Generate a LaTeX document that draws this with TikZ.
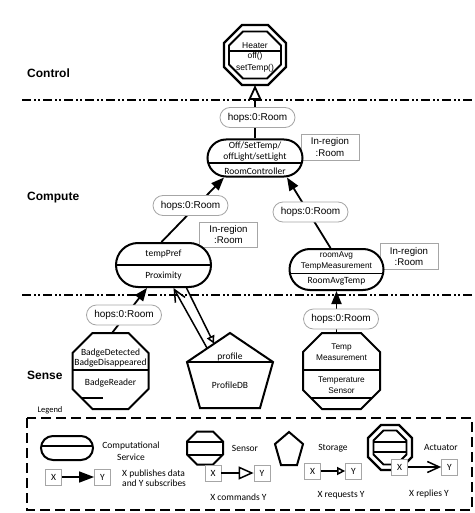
\documentclass[tikz,border=0pt]{standalone}
\usepackage{fontspec}
\setmainfont{Liberation Sans}
\newfontfamily\calfont{Carlito}
\usetikzlibrary{arrows.meta,shapes.misc,calc}

\newcommand{\octaShape}[6]{%
  \draw[#6] ({#1-#3/2+#5},{#2-#4/2}) -- ({#1+#3/2-#5},{#2-#4/2}) -- ({#1+#3/2},{#2-#4/2+#5}) -- ({#1+#3/2},{#2+#4/2-#5}) -- ({#1+#3/2-#5},{#2+#4/2}) -- ({#1-#3/2+#5},{#2+#4/2}) -- ({#1-#3/2},{#2+#4/2-#5}) -- ({#1-#3/2},{#2-#4/2+#5}) -- cycle;}

\tikzset{
  layerlbl/.style={anchor=west, inner sep=0pt, font=\bfseries\fontsize{12}{14}\selectfont},
  layerline/.style={line width=2.5pt, dash pattern=on 9pt off 3pt on 2pt off 2pt on 2pt off 3pt},
  capsule/.style={rounded rectangle, draw, line width=2pt, fill=white, inner sep=0pt},
  splitat/.style={path picture={\draw[line width=1.5pt] ([yshift=#1]path picture bounding box.west) -- ([yshift=#1]path picture bounding box.east);}},
  shapeline/.style={line width=2pt, fill=white},
  divline/.style={line width=1.5pt},
  hold/.style={rectangle, inner sep=0pt, outer sep=0pt},
  ctxt/.style={font=\calfont\fontsize{9.5}{10.5}\selectfont, align=center, inner sep=0pt},
  atxt/.style={font=\fontsize{8.3}{11}\selectfont, align=center, inner sep=0pt},
  hops/.style={rounded rectangle, draw=gray!70, line width=0.8pt, fill=white, minimum width=75pt, minimum height=20pt, inner sep=0pt, font=\fontsize{10}{11}\selectfont},
  region/.style={rectangle, draw=gray!70, line width=0.8pt, fill=white, minimum width=58pt, minimum height=26pt, inner sep=0pt, align=center, font=\fontsize{9.7}{11.5}\selectfont},
  xy/.style={rectangle, draw=gray!70, line width=0.8pt, fill=white, minimum size=16pt, inner sep=0pt, font=\calfont\fontsize{9.5}{10}\selectfont},
  pub/.style={line width=1.8pt, -{Triangle[length=13pt,width=10pt]}},
  cmd/.style={line width=1.8pt, -{Triangle[fill=white,length=15pt,width=13pt]}},
  req/.style={line width=1.5pt, -{Triangle[fill=white,length=8pt,width=8pt]}},
  rep/.style={line width=1.5pt, -{Straight Barb[length=12pt,width=11pt]}},
}

\begin{document}
\begin{tikzpicture}[x=1pt, y=-1pt]
\useasboundingbox (0,0) rectangle (474,513);

% layers
\node[layerlbl] (lcontrol) at (27,73) {Control};
\node[layerlbl] (lcompute) at (27,198) {Compute};
\node[layerlbl] (lsense) at (27,375) {Sense};
\draw[layerline] (22,100) -- (474,100);
\draw[layerline] (22,295) -- (474,295);

% in-region boxes (behind the services)
\node[region] (ir1) at (330,147) {In-region\\:Room};
\node[region, minimum height=25pt] (ir2) at (228.5,234.5) {In-region\\:Room};
\node[region] (ir3) at (409,256.5) {In-region\\:Room};

% Heater (actuator)
\node[hold, minimum width=62pt, minimum height=60pt] (heater) at (255,55) {};
\octaShape{255}{55}{62}{60}{18}{line width=2.4pt, fill=white}
\octaShape{255}{55}{52}{47}{14}{line width=1.8pt}
\draw[line width=1.2pt] (229,51) -- (281,51);
\node[atxt, font=\fontsize{8.5}{12}\selectfont] (heater-n) at (255,46) {Heater};
\node[atxt, font=\fontsize{8.5}{12}\selectfont] (heater-m) at (255,62.5) {off()\\setTemp()};

% RoomController
\node[capsule, minimum width=95pt, minimum height=37pt, splitat=-5pt] (rc) at (255,158) {};
\node[ctxt] (rc-op) at (255,151.5) {Off/SetTemp/\\offLight/setLight};
\node[ctxt] (rc-name) at (255,171) {RoomController};

% Proximity
\node[capsule, minimum width=95pt, minimum height=44pt, splitat=0pt] (prox) at (163.5,265) {};
\node[ctxt] (prox-op) at (163.5,254) {tempPref};
\node[ctxt] (prox-name) at (163.5,276) {Proximity};

% RoomAvgTemp
\node[capsule, minimum width=94pt, minimum height=41pt, splitat=-4pt] (rat) at (336.5,269.5) {};
\node[atxt] (rat-op) at (336.5,261.5) {roomAvg\\TempMeasurement};
\node[ctxt] (rat-name) at (336.5,281) {RoomAvgTemp};

% BadgeReader (sensor)
\node[hold, minimum width=76pt, minimum height=76pt] (br) at (110.5,371) {};
\octaShape{110.5}{371}{76}{76}{20}{shapeline}
\draw[divline] (72.5,370) -- (148.5,370);
\draw[divline] (81.5,398) -- (103,398);
\node[ctxt] (br-op) at (110.5,358) {BadgeDetected\\BadgeDisappeared};
\node[ctxt] (br-name) at (110.5,383.5) {BadgeReader};

% ProfileDB (storage)
\coordinate (pdbA) at (230,333);
\coordinate (pdbL) at (187,362);
\coordinate (pdbR) at (273,362);
\coordinate (pdbBL) at (200,408);
\coordinate (pdbBR) at (260,408);
\draw[shapeline] (pdbA) -- (pdbR) -- (pdbBR) -- (pdbBL) -- (pdbL) -- cycle;
\draw[divline] (pdbL) -- (pdbR);
\node[ctxt] (pdb-op) at (230,357) {profile};
\node[ctxt] (pdb-name) at (230,385) {ProfileDB};

% Temperature sensor
\node[hold, minimum width=77pt, minimum height=76pt] (ts) at (341.5,371) {};
\octaShape{341.5}{371}{77}{76}{19}{shapeline}
\draw[divline] (303,370) -- (380,370);
\draw[divline] (311,398) -- (372,398);
\node[atxt] (ts-op) at (341.5,352.5) {Temp\\Measurement};
\node[atxt] (ts-name) at (341.5,385.5) {Temperature\\Sensor};

% connectors
\draw[cmd] (rc.north) -- (heater.south);
\draw[pub] ([xshift=-2pt]prox.north) -- ([xshift=-31pt]rc.south);
\draw[pub] ([xshift=-6pt]rat.north) -- ([xshift=32pt]rc.south);
\draw[pub] ([xshift=1.5pt]br.north) -- ([xshift=-16.5pt]prox.south);
\draw[pub] (ts.north -| rat.south) -- (rat.south);
\draw[req] ([xshift=23pt]prox.south) -- ($(pdbA)!0.37!(pdbL)$);
\draw[rep] ($(pdbA)!0.53!(pdbL)$) -- ([xshift=10pt]prox.south);

% hops labels
\node[hops] (h1) at (257.5,117.5) {hops:0:Room};
\node[hops] (h2) at (190.5,205.5) {hops:0:Room};
\node[hops] (h3) at (310.5,212) {hops:0:Room};
\node[hops] (h4) at (124,315) {hops:0:Room};
\node[hops] (h5) at (341,319) {hops:0:Room};

% legend
\node[ctxt, font=\calfont\fontsize{8.5}{10}\selectfont] (leg-title) at (50,410) {Legend};
\draw[line width=2pt, dash pattern=on 10pt off 5pt] (27,418) rectangle (472,510);

\node[capsule, minimum width=52pt, minimum height=24pt, splitat=2pt] (lg-cs) at (67,448) {};
\node[ctxt, font=\calfont\fontsize{9.5}{12}\selectfont] (lg-cs-t) at (131,451) {Computational\\Service};

\node[hold, minimum width=36pt, minimum height=33pt] (lg-sn) at (205,448) {};
\octaShape{205}{448}{36}{33}{10}{shapeline}
\draw[divline] (187,442) -- (223,442);
\draw[divline] (187.5,455) -- (222.5,455);
\node[ctxt] (lg-sn-t) at (245,448) {Sensor};

\coordinate (lsA) at (289,432);
\coordinate (lsL) at (275,444);
\coordinate (lsR) at (303,444);
\coordinate (lsBL) at (281,465);
\coordinate (lsBR) at (297,465);
\draw[shapeline] (lsA) -- (lsR) -- (lsBR) -- (lsBL) -- (lsL) -- cycle;
\node[ctxt] (lg-st-t) at (333,448) {Storage};

\node[hold, minimum width=44pt, minimum height=45pt] (lg-ac) at (390,447.5) {};
\octaShape{390}{447.5}{44}{45}{13}{line width=2.2pt, fill=white}
\octaShape{390}{447.5}{33}{34}{10}{line width=1.8pt}
\draw[divline] (373.5,442) -- (406.5,442);
\draw[divline] (373.5,452) -- (406.5,452);
\node[ctxt] (lg-ac-t) at (441,447) {Actuator};

\node[xy] (pX) at (53.5,477) {X};
\node[xy] (pY) at (102.5,477) {Y};
\draw[line width=1.5pt, -{Triangle[length=15pt,width=11pt]}] (pX) -- (pY);
\node[ctxt, align=left, anchor=west] (p-t) at (122,478) {X publishes data\\and Y subscribes};

\node[xy] (cX) at (213,473) {X};
\node[xy] (cY) at (262,473) {Y};
\draw[line width=1.5pt, -{Triangle[fill=white,length=15pt,width=13pt]}] (cX) -- (cY);
\node[ctxt] (c-t) at (238.5,497) {X commands Y};

\node[xy] (rX) at (312.5,471) {X};
\node[xy] (rY) at (353.5,471) {Y};
\draw[req] (rX) -- (rY);
\node[ctxt] (r-t) at (341,495) {X requests Y};

\node[xy] (yX) at (399.5,467) {X};
\node[xy] (yY) at (449.5,467) {Y};
\draw[rep] (yX) -- (yY);
\node[ctxt] (y-t) at (429,494) {X replies Y};
\end{tikzpicture}
\end{document}
